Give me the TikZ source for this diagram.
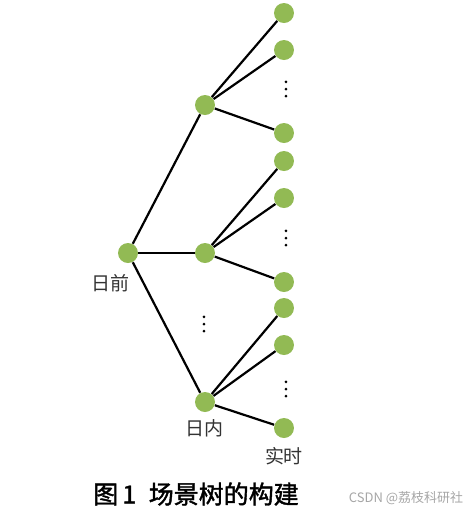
\documentclass[tikz,border=0pt]{standalone}
\usepackage{fontspec}
\newfontfamily\cjk{Noto Sans CJK SC}
\newfontfamily\cjkbold[FakeBold=1.6]{Noto Sans CJK SC}
\usepackage{tikz}
\usetikzlibrary{arrows,arrows.meta}
\definecolor{leafgreen}{RGB}{146,186,84}

\begin{document}
\begin{tikzpicture}[
  x=0.5pt, y=-0.5pt,
  cnode/.style={fill=leafgreen,circle,minimum size=10pt,inner sep=0pt},
  tlabel/.style={font=\cjk\fontsize{9.5}{10}\selectfont,text=black!80,inner sep=0pt}
]
  \useasboundingbox (0,0) rectangle (474,516);

  % root and stages
  \node[cnode] (r) at (128, 253) {};
  \node[cnode] (m1) at (205, 105) {};
  \node[cnode] (m2) at (205, 253) {};
  \node[cnode] (m3) at (205, 402) {};

  % leaves
  \node[cnode] (l11) at (284, 13) {};
  \node[cnode] (l12) at (284, 50) {};
  \node[cnode] (l13) at (284, 133) {};
  \node[cnode] (l21) at (284, 161) {};
  \node[cnode] (l22) at (284, 198) {};
  \node[cnode] (l23) at (284, 282) {};
  \node[cnode] (l31) at (284, 308) {};
  \node[cnode] (l32) at (284, 345) {};
  \node[cnode] (l33) at (284, 428) {};

  % dots
  \coordinate (d1) at (286, 89);
  \coordinate (d2) at (286, 238);
  \coordinate (d3) at (286, 389);
  \coordinate (d4) at (204, 324);
  \foreach \d in {d1,d2,d3,d4}
    \foreach \k in {-1,0,1}
      \fill ([yshift=\k*3.6pt]\d) circle (0.75pt);

  % labels
  \node[tlabel] (t1) at (110, 283) {日前};
  \node[tlabel] (t2) at (204, 428) {日内};
  \node[tlabel] (t3) at (284, 456) {实时};

  % tree edges
  \draw[line width=1.1pt] (r) -- (m1);
  \draw[line width=1.1pt] (r) -- (m2);
  \draw[line width=1.1pt] (r) -- (m3);
  \draw[line width=1.1pt] (m1) -- (l11);
  \draw[line width=1.1pt] (m1) -- (l12);
  \draw[line width=1.1pt] (m1) -- (l13);
  \draw[line width=1.1pt] (m2) -- (l21);
  \draw[line width=1.1pt] (m2) -- (l22);
  \draw[line width=1.1pt] (m2) -- (l23);
  \draw[line width=1.1pt] (m3) -- (l31);
  \draw[line width=1.1pt] (m3) -- (l32);
  \draw[line width=1.1pt] (m3) -- (l33);

  % caption
  \node[font=\cjkbold\fontsize{12.5}{13}\selectfont,inner sep=0pt] (cap) at (196, 494) {图\,1\enspace 场景树的构建};
  \node[font=\cjk\fontsize{6.5}{7}\selectfont,text=black!35,inner sep=0pt] (wm) at (406, 498) {CSDN @荔枝科研社};

\end{tikzpicture}
\end{document}
